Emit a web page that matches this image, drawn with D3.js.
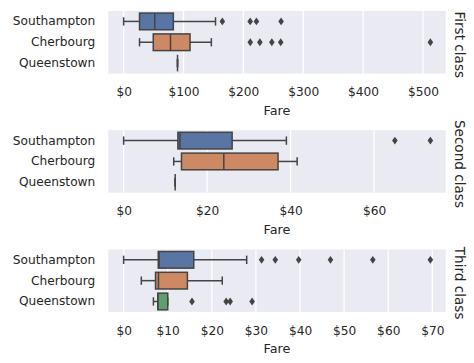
<!DOCTYPE html>
<html>
<head>
<meta charset="utf-8">
<script src="https://cdn.jsdelivr.net/npm/d3@7"></script>
<style>
  html, body { margin: 0; padding: 0; background: #ffffff; }
  svg { display: block; font-family: "DejaVu Sans", sans-serif; }
</style>
</head>
<body>
<svg id="chart" width="474" height="363"></svg>
<script>
// ---------------- data ----------------
const ports = ["Southampton", "Cherbourg", "Queenstown"];
const classes = ["First class", "Second class", "Third class"];
const xTicks = [
  [0, 100, 200, 300, 400, 500],
  [0, 20, 40, 60],
  [0, 10, 20, 30, 40, 50, 60, 70]
];
// box statistics, [class][port]
const whiskerLow = [[0, 26.55, 90], [0, 12.0, 12.35], [0, 4.01, 6.75]];
const q1Values   = [[26.55, 49.5, 90], [13.0, 13.86, 12.35], [7.85, 7.23, 7.75]];
const medians    = [[52.0, 78.27, 90], [13.5, 24.0, 12.35], [8.05, 7.90, 7.75]];
const q3Values   = [[83.0, 110.88, 90], [26.0, 37.0, 12.35], [15.9, 14.46, 10.0]];
const whiskerHigh= [[153.46, 146.52, 90], [39.0, 41.58, 12.35], [27.9, 22.36, 10.0]];
const outliers = [
  [[164.87, 211.34, 221.78, 263.0], [211.5, 227.53, 247.52, 262.38, 512.33], []],
  [[65.0, 73.5], [], []],
  [[31.28, 34.38, 39.69, 46.9, 56.5, 69.55], [], [15.5, 23.25, 24.15, 29.13]]
];
const portColors = ["#5875A4", "#CC8963", "#5F9E6E"];

// ---------------- layout ----------------
const svg = d3.select("#chart");
const left = 108.3, right = 445.7;
const panelTop0 = 11, panelStep = 119.2, panelH = 62.5;
const bg = "#EAEAF2", lineGray = "#444444", textColor = "#262626";

const diamond = (h, w) => `M0,${-h}L${w},0L0,${h}L${-w},0Z`;

classes.forEach((cls, ci) => {
  const top = panelTop0 + ci * panelStep;
  const bottom = top + panelH;
  const g = svg.append("g");

  // domain from data with 5% margins
  const allVals = [].concat(whiskerLow[ci], whiskerHigh[ci], ...outliers[ci]);
  const [mn, mx] = d3.extent(allVals);
  const pad = (mx - mn) * 0.05;
  const x = d3.scaleLinear().domain([mn - pad, mx + pad]).range([left, right]);
  const y = d3.scaleBand().domain(ports).range([top, bottom]).padding(0);
  const boxH = y.bandwidth() * 0.8;

  g.append("rect").attr("x", left).attr("y", top)
    .attr("width", right - left).attr("height", panelH).attr("fill", bg);

  // vertical grid
  g.selectAll("line.grid").data(xTicks[ci]).enter().append("line")
    .attr("x1", d => x(d)).attr("x2", d => x(d))
    .attr("y1", top).attr("y2", bottom)
    .attr("stroke", "#ffffff").attr("stroke-width", 1.3);

  // boxes
  ports.forEach((p, pi) => {
    const cy = y(p) + y.bandwidth() / 2;
    const lo = whiskerLow[ci][pi], a = q1Values[ci][pi], m = medians[ci][pi],
          b = q3Values[ci][pi], hi = whiskerHigh[ci][pi];
    const bx = g.append("g");
    // whiskers
    bx.append("line").attr("x1", x(lo)).attr("x2", x(a)).attr("y1", cy).attr("y2", cy)
      .attr("stroke", lineGray).attr("stroke-width", 1.5);
    bx.append("line").attr("x1", x(b)).attr("x2", x(hi)).attr("y1", cy).attr("y2", cy)
      .attr("stroke", lineGray).attr("stroke-width", 1.5);
    // caps
    [lo, hi].forEach(v => {
      bx.append("line").attr("x1", x(v)).attr("x2", x(v))
        .attr("y1", cy - boxH / 4).attr("y2", cy + boxH / 4)
        .attr("stroke", lineGray).attr("stroke-width", 1.5);
    });
    // box
    bx.append("rect").attr("x", x(a)).attr("y", cy - boxH / 2)
      .attr("width", Math.max(0, x(b) - x(a))).attr("height", boxH)
      .attr("fill", portColors[pi]).attr("stroke", lineGray).attr("stroke-width", 1.5);
    // median
    bx.append("line").attr("x1", x(m)).attr("x2", x(m))
      .attr("y1", cy - boxH / 2).attr("y2", cy + boxH / 2)
      .attr("stroke", lineGray).attr("stroke-width", 1.5);
    // outliers
    bx.selectAll("path.fl").data(outliers[ci][pi]).enter().append("path")
      .attr("d", diamond(3.9, 2.8))
      .attr("transform", d => `translate(${x(d)},${cy})`)
      .attr("fill", lineGray);
  });

  // x axis
  const xAxis = d3.axisBottom(x).tickValues(xTicks[ci]).tickSize(0).tickPadding(14)
    .tickFormat(d => "$" + d);
  const xg = g.append("g").attr("transform", `translate(0,${bottom})`).call(xAxis);
  xg.select(".domain").remove();
  xg.selectAll("text").attr("fill", textColor).style("font-size", "12.2px")
    .style("font-family", "DejaVu Sans, sans-serif");

  // y axis
  const yAxis = d3.axisLeft(y).tickSize(0).tickPadding(13);
  const yg = g.append("g").attr("transform", `translate(${left},0)`).call(yAxis);
  yg.select(".domain").remove();
  yg.selectAll("text").attr("fill", textColor).style("font-size", "12.2px")
    .style("font-family", "DejaVu Sans, sans-serif");

  // x label
  g.append("text").attr("x", (left + right) / 2).attr("y", bottom + 41.3)
    .attr("text-anchor", "middle").attr("fill", textColor)
    .style("font-size", "12.8px").text("Fare");

  // row title
  g.append("text")
    .attr("transform", `translate(455,${(top + bottom) / 2 + 2.5}) rotate(90)`)
    .attr("text-anchor", "middle").attr("fill", textColor)
    .style("font-size", "13.6px").text(cls);
});
</script>
</body>
</html>
